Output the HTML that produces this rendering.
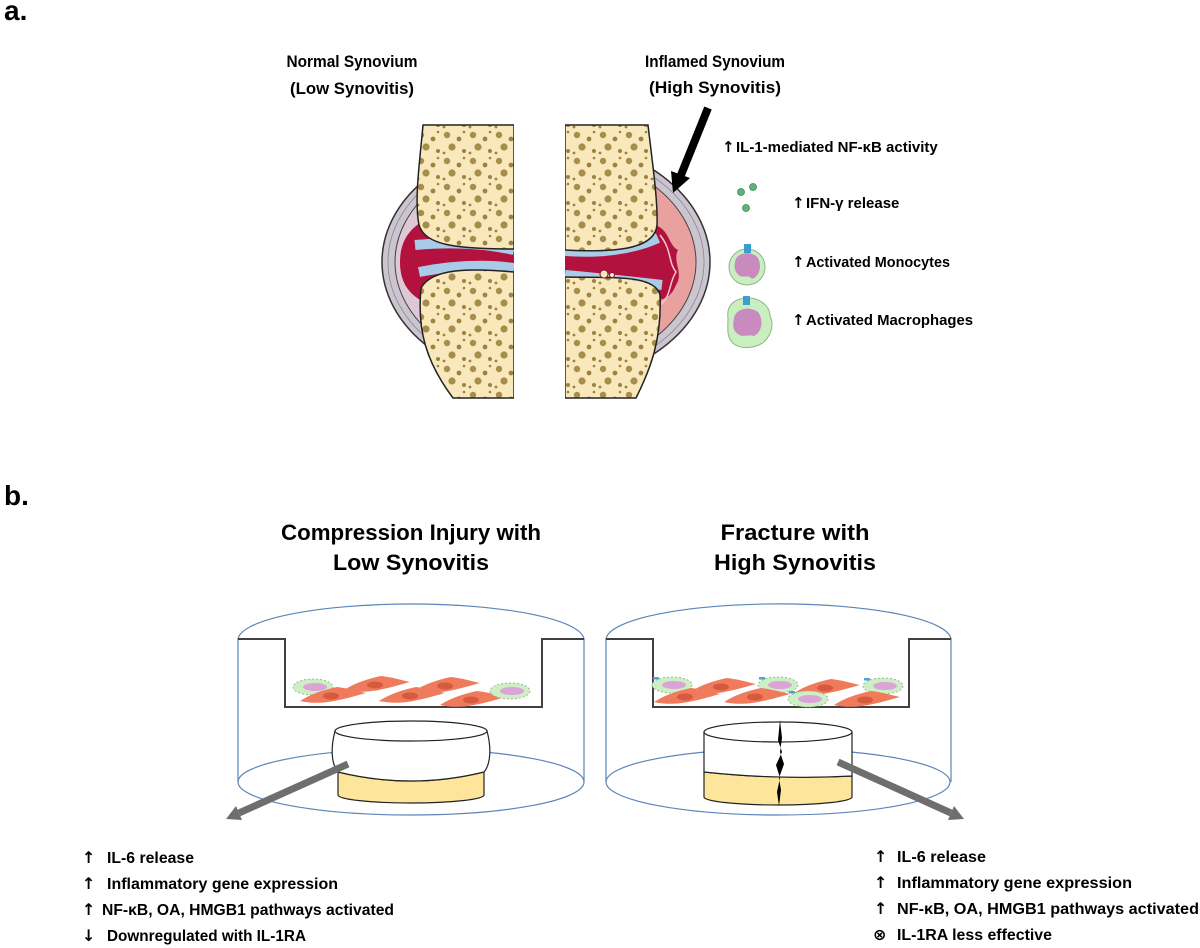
<!DOCTYPE html>
<html><head><meta charset="utf-8"><style>
html,body{margin:0;padding:0;background:#fff;}
svg{display:block;}
text{font-family:"Liberation Sans","DejaVu Sans",sans-serif;font-weight:bold;fill:#000;}
.ar{font-family:"DejaVu Sans",sans-serif;font-weight:bold;}
</style></head><body>
<svg width="1200" height="948" viewBox="0 0 1200 948" xmlns="http://www.w3.org/2000/svg">
<defs>
<pattern id="dots" width="26" height="26" patternUnits="userSpaceOnUse">
<rect width="26" height="26" fill="#f8e8bc"/>
<circle cx="5" cy="5" r="3.2" fill="#a88d4a"/>
<circle cx="17" cy="9" r="2.4" fill="#9c8242"/>
<circle cx="10" cy="17" r="3.6" fill="#a88d4a"/>
<circle cx="22" cy="21" r="2" fill="#9c8242"/>
<circle cx="2" cy="23" r="1.4" fill="#9c8242"/>
<circle cx="22" cy="2" r="1.3" fill="#9c8242"/>
</pattern>
<clipPath id="cl"><rect x="0" y="0" width="514" height="420"/></clipPath>
<clipPath id="cr"><rect x="565" y="0" width="300" height="420"/></clipPath>
<g id="fib">
<path d="M-33,5 C-22,-2 -10,-6 4,-9 C14,-8 24,-5 33,-3 C22,0 12,3 6,4 C-6,7 -20,8 -33,5 Z" fill="#ef7a5c"/>
<ellipse cx="-2" cy="0" rx="8" ry="3.5" fill="#d65a3e"/>
</g>
<g id="mac">
<ellipse cx="0" cy="0" rx="20" ry="8" fill="#cdefc4" stroke="#9cb894" stroke-width="1" stroke-dasharray="2 2"/>
<ellipse cx="2" cy="0" rx="12" ry="4" fill="#dba4d6"/>
</g>
<g id="macb">
<use href="#mac"/>
<rect x="-19" y="-8" width="6" height="2.5" fill="#4aa8d8"/>
</g>
</defs>

<!-- Part a -->
<text x="4" y="20" font-size="28">a.</text>
<text x="352" y="67" font-size="17" text-anchor="middle" textLength="131" lengthAdjust="spacingAndGlyphs">Normal Synovium</text>
<text x="352" y="94" font-size="17" text-anchor="middle" textLength="124" lengthAdjust="spacingAndGlyphs">(Low Synovitis)</text>
<text x="715" y="67" font-size="17" text-anchor="middle" textLength="140" lengthAdjust="spacingAndGlyphs">Inflamed Synovium</text>
<text x="715" y="93" font-size="17" text-anchor="middle" textLength="132" lengthAdjust="spacingAndGlyphs">(High Synovitis)</text>

<!-- left half joint -->
<g clip-path="url(#cl)">
<ellipse cx="546" cy="262" rx="164" ry="122" fill="#cbc5cf" stroke="#333" stroke-width="1.5"/>
<ellipse cx="546" cy="262" rx="158" ry="116" fill="none" stroke="#8a8590" stroke-width="0.8"/>
<ellipse cx="546" cy="262" rx="151" ry="110" fill="#dfc8d6" stroke="#444" stroke-width="1"/>
<path d="M400,262 C400,225 430,205 514,205 L514,315 C430,315 400,300 400,262 Z" fill="#b3123f"/>
<path d="M415,245 Q470,240 514,250" fill="none" stroke="#a9cbe8" stroke-width="10"/>
<path d="M419,272 Q470,262 514,268" fill="none" stroke="#a9cbe8" stroke-width="10"/>
<path d="M423,125 C420,160 414,200 419,225 C425,245 455,249 514,249 L514,125 Z" fill="url(#dots)" stroke="#222" stroke-width="1.5"/>
<path d="M514,272 C470,268 432,268 421,288 C417,330 426,362 453,398 L514,398 Z" fill="url(#dots)" stroke="#222" stroke-width="1.5"/>
</g>
<!-- right half joint -->
<g clip-path="url(#cr)">
<ellipse cx="546" cy="262" rx="164" ry="122" fill="#cbc5cf" stroke="#333" stroke-width="1.5"/>
<ellipse cx="546" cy="262" rx="158" ry="116" fill="none" stroke="#8a8590" stroke-width="0.8"/>
<ellipse cx="546" cy="262" rx="150" ry="110" fill="#e9a1a0" stroke="#444" stroke-width="1"/>
<path d="M565,225 L655,225 C670,230 668,245 678,250 C672,262 684,272 676,285 C670,300 660,300 655,300 L565,300 Z" fill="#b3123f"/>
<path d="M660,235 C672,250 668,262 676,272 C668,285 672,295 660,305" fill="none" stroke="#f6c8c8" stroke-width="1.5"/>
<path d="M565,251 Q620,255 658,238" fill="none" stroke="#a9cbe8" stroke-width="10"/>
<path d="M565,275 Q620,280 662,285" fill="none" stroke="#a9cbe8" stroke-width="10"/>
<path d="M565,125 L648,125 C652,160 658,200 657,225 C655,248 620,253 565,250 Z" fill="url(#dots)" stroke="#222" stroke-width="1.5"/>
<path d="M565,277 C610,278 655,274 660,295 C662,340 650,370 636,398 L565,398 Z" fill="url(#dots)" stroke="#222" stroke-width="1.5"/>
<circle cx="604" cy="274" r="4" fill="#f8e8bc" stroke="#8a1030"/>
<circle cx="612" cy="275" r="2.5" fill="#f8e8bc" stroke="#8a1030"/>
</g>
<!-- black arrow -->
<line x1="708" y1="108" x2="681" y2="175" stroke="#000" stroke-width="8"/>
<polygon points="673,193 690,178 671,171" fill="#000"/>

<!-- list a -->
<text x="722" y="152" font-size="15" class="ar">↑</text>
<text x="736" y="152" font-size="15">IL-1-mediated NF-κB activity</text>
<circle cx="741" cy="192" r="3.5" fill="#5fb37a" stroke="#3d8a55" stroke-width="0.8"/>
<circle cx="753" cy="187" r="3.5" fill="#5fb37a" stroke="#3d8a55" stroke-width="0.8"/>
<circle cx="746" cy="208" r="3.5" fill="#5fb37a" stroke="#3d8a55" stroke-width="0.8"/>
<text x="792" y="208" font-size="15" class="ar">↑</text>
<text x="806" y="208" font-size="15">IFN-γ release</text>
<!-- monocyte -->
<circle cx="747" cy="267" r="18" fill="#c9efc0" stroke="#8fb488" stroke-width="1"/>
<path d="M735,262 C736,252 752,250 758,258 C762,266 760,276 752,279 C748,274 744,278 740,276 C734,272 734,266 735,262 Z" fill="#c98bbf"/>
<rect x="744" y="244" width="7" height="9" fill="#3a9fd0"/>
<text x="792" y="267" font-size="15" class="ar">↑</text>
<text x="806" y="267" font-size="15" textLength="144" lengthAdjust="spacingAndGlyphs">Activated Monocytes</text>
<!-- macrophage -->
<path d="M728,318 C726,304 736,298 748,298 C760,298 770,306 770,316 C774,324 772,334 764,342 C756,348 742,350 734,344 C726,338 728,328 728,318 Z" fill="#c9efc0" stroke="#8fb488" stroke-width="1"/>
<path d="M734,318 C736,308 750,306 758,312 C764,320 762,332 754,336 C748,334 742,338 738,334 C732,330 733,324 734,318 Z" fill="#c98bbf"/>
<rect x="743" y="296" width="7" height="9" fill="#3a9fd0"/>
<text x="792" y="325" font-size="15" class="ar">↑</text>
<text x="806" y="325" font-size="15" textLength="167" lengthAdjust="spacingAndGlyphs">Activated Macrophages</text>

<!-- Part b -->
<text x="4" y="505" font-size="28">b.</text>
<text x="411" y="540" font-size="22" text-anchor="middle" textLength="260" lengthAdjust="spacingAndGlyphs">Compression Injury with</text>
<text x="411" y="570" font-size="22" text-anchor="middle" textLength="156" lengthAdjust="spacingAndGlyphs">Low Synovitis</text>
<text x="795" y="540" font-size="22" text-anchor="middle" textLength="149" lengthAdjust="spacingAndGlyphs">Fracture with</text>
<text x="795" y="570" font-size="22" text-anchor="middle" textLength="162" lengthAdjust="spacingAndGlyphs">High Synovitis</text>

<!-- left well -->
<g fill="none" stroke="#5b85b9" stroke-width="1.2">
<path d="M238,640 A173,36 0 0 1 584,640"/>
<line x1="238" y1="638" x2="238" y2="782"/>
<line x1="584" y1="638" x2="584" y2="782"/>
<ellipse cx="411" cy="782" rx="173" ry="33"/>
</g>
<path d="M238,639 L285,639 L285,707 L542,707 L542,639 L584,639" fill="none" stroke="#404040" stroke-width="2"/>
<use href="#mac" x="313" y="687"/>
<use href="#fib" x="377" y="685"/>
<use href="#fib" x="447" y="686"/>
<use href="#fib" x="333" y="696"/>
<use href="#fib" x="412" y="696"/>
<use href="#fib" x="473" y="700"/>
<use href="#mac" x="510" y="691"/>
<path d="M338,772 Q411,790 484,772 L484,795 A73,8 0 0 1 338,795 Z" fill="#fde59b" stroke="#222" stroke-width="1.2"/>
<path d="M335,731 C330,750 332,765 338,772 Q411,790 484,772 C490,765 492,750 487,731 Z" fill="#fff" stroke="#222" stroke-width="1.2"/>
<ellipse cx="411" cy="731" rx="76" ry="10" fill="#fff" stroke="#222" stroke-width="1.2"/>
<line x1="348" y1="764" x2="239" y2="813" stroke="#6e6e6e" stroke-width="7"/>
<polygon points="226,819 242,820 236,806" fill="#6e6e6e"/>

<!-- right well -->
<g fill="none" stroke="#5b85b9" stroke-width="1.2">
<path d="M606,640 A172,36 0 0 1 951,640"/>
<line x1="606" y1="638" x2="606" y2="782"/>
<line x1="951" y1="638" x2="951" y2="782"/>
<ellipse cx="778" cy="782" rx="172" ry="33"/>
</g>
<path d="M606,639 L653,639 L653,707 L909,707 L909,639 L951,639" fill="none" stroke="#404040" stroke-width="2"/>
<use href="#macb" x="672" y="685"/>
<use href="#fib" x="723" y="687"/>
<use href="#macb" x="778" y="685"/>
<use href="#fib" x="827" y="688"/>
<use href="#macb" x="883" y="686"/>
<use href="#fib" x="687" y="697"/>
<use href="#fib" x="757" y="697"/>
<use href="#macb" x="808" y="699"/>
<use href="#fib" x="867" y="700"/>
<path d="M704,772 Q778,780 852,776 L852,797 A74,8 0 0 1 704,797 Z" fill="#fde59b" stroke="#222" stroke-width="1.2"/>
<path d="M704,732 L704,772 Q778,780 852,776 L852,732 Z" fill="#fff" stroke="#222" stroke-width="1.2"/>
<ellipse cx="778" cy="732" rx="74" ry="10" fill="#fff" stroke="#222" stroke-width="1.2"/>
<polygon points="780,720 778,740 782,752 776,765 780,778 777,792 779,806 781,790 779,778 784,764 780,752 782,738" fill="#000"/>
<line x1="838" y1="762" x2="951" y2="813" stroke="#6e6e6e" stroke-width="7"/>
<polygon points="964,819 948,820 954,806" fill="#6e6e6e"/>

<!-- bottom lists -->
<g font-size="16">
<text x="82" y="863" class="ar">↑</text><text x="107" y="863" textLength="87" lengthAdjust="spacingAndGlyphs">IL-6 release</text>
<text x="82" y="889" class="ar">↑</text><text x="107" y="889" textLength="231" lengthAdjust="spacingAndGlyphs">Inflammatory gene expression</text>
<text x="82" y="915" class="ar">↑</text><text x="102" y="915" textLength="292" lengthAdjust="spacingAndGlyphs">NF-κB, OA, HMGB1 pathways activated</text>
<text x="82" y="941" class="ar">↓</text><text x="107" y="941" textLength="199" lengthAdjust="spacingAndGlyphs">Downregulated with IL-1RA</text>
<text x="874" y="862" class="ar">↑</text><text x="897" y="862" textLength="89" lengthAdjust="spacingAndGlyphs">IL-6 release</text>
<text x="874" y="888" class="ar">↑</text><text x="897" y="888" textLength="235" lengthAdjust="spacingAndGlyphs">Inflammatory gene expression</text>
<text x="874" y="914" class="ar">↑</text><text x="897" y="914" textLength="302" lengthAdjust="spacingAndGlyphs">NF-κB, OA, HMGB1 pathways activated</text>
<text x="873" y="940" class="ar">⊗</text><text x="897" y="940" textLength="155" lengthAdjust="spacingAndGlyphs">IL-1RA less effective</text>
</g>
</svg>
</body></html>
